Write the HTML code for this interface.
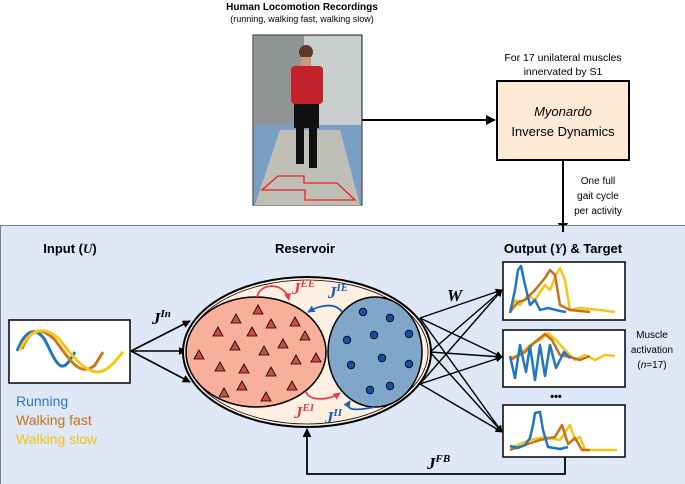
<!DOCTYPE html>
<html><head><meta charset="utf-8"><style>
html,body{margin:0;padding:0;background:#fff;}
svg{display:block;font-family:"Liberation Sans",sans-serif;}
.j{font-family:"Liberation Serif",serif;font-weight:bold;font-style:italic;font-size:17px;}
</style></head><body>
<svg width="685" height="484" viewBox="0 0 685 484" xmlns="http://www.w3.org/2000/svg">
<defs>
<marker id="ah" viewBox="0 0 10 10" refX="9" refY="5" markerWidth="5" markerHeight="5" orient="auto"><path d="M0,0L10,5L0,10z" fill="#000"/></marker>
<marker id="ahr" viewBox="0 0 10 10" refX="9" refY="5" markerWidth="4" markerHeight="4" orient="auto"><path d="M0,0L10,5L0,10z" fill="#e0404a"/></marker>
<marker id="ahb" viewBox="0 0 10 10" refX="9" refY="5" markerWidth="4" markerHeight="4" orient="auto"><path d="M0,0L10,5L0,10z" fill="#1a5fb4"/></marker>
</defs>
<text x="302" y="10" font-size="10" font-weight="bold" text-anchor="middle">Human Locomotion Recordings</text>
<text x="302" y="22" font-size="9" text-anchor="middle">(running, walking fast, walking slow)</text>
<rect x="253" y="35" width="109" height="170" fill="#b8bcbc" stroke="#222" stroke-width="1"/>
<rect x="254" y="36" width="50" height="95" fill="#8e9594"/>
<rect x="304" y="36" width="57" height="90" fill="#c9cfcd"/>
<rect x="254" y="125" width="107" height="80" fill="#7a9fc3"/>
<polygon points="280,130 340,130 360,205 255,205" fill="#c0bfb7"/>
<polygon points="278,176 304,176 304,183 337,183 355,200 305,200 305,190 262,190" fill="none" stroke="#e52020" stroke-width="1.3"/>
<rect x="291" y="66" width="32" height="38" fill="#c3222c" rx="4"/>
<circle cx="306" cy="52" r="7" fill="#5a3a2a"/>
<rect x="301" y="57" width="10" height="9" fill="#c99a7e"/>
<rect x="294" y="104" width="25" height="24" fill="#111"/>
<rect x="296" y="126" width="8" height="38" fill="#111"/>
<rect x="309" y="126" width="8" height="42" fill="#111"/>
<line x1="362" y1="120" x2="495" y2="120" stroke="#000" stroke-width="2" marker-end="url(#ah)"/>
<text x="563" y="61" font-size="10.5" text-anchor="middle">For 17 unilateral muscles</text>
<text x="563" y="75" font-size="10.5" text-anchor="middle">innervated by S1</text>
<rect x="497" y="81" width="132" height="79" fill="#fdebd8" stroke="#000" stroke-width="2"/>
<text x="563" y="116" font-size="13" font-style="italic" text-anchor="middle">Myonardo</text>
<text x="563" y="136" font-size="13" text-anchor="middle">Inverse Dynamics</text>
<line x1="563" y1="160" x2="563" y2="232" stroke="#000" stroke-width="2" marker-end="url(#ah)"/>
<text x="598" y="184" font-size="10" text-anchor="middle">One full</text>
<text x="598" y="199" font-size="10" text-anchor="middle">gait cycle</text>
<text x="598" y="214" font-size="10" text-anchor="middle">per activity</text>
<rect x="0.5" y="225.5" width="690" height="262" fill="#dee8f6" stroke="#7a7f88" stroke-width="1"/>
<line x1="563" y1="225" x2="563" y2="232" stroke="#000" stroke-width="2"/>
<text x="70" y="253" font-size="13" font-weight="bold" text-anchor="middle">Input (<tspan font-family="Liberation Serif" font-style="italic">U</tspan>)</text>
<text x="305" y="253" font-size="13" font-weight="bold" text-anchor="middle">Reservoir</text>
<text x="563" y="253" font-size="13" font-weight="bold" text-anchor="middle">Output (<tspan font-family="Liberation Serif" font-style="italic">Y</tspan>) &amp; Target</text>
<rect x="9" y="320" width="121" height="63" fill="#fff" stroke="#000" stroke-width="1.5"/>
<path d="M17,351 C25,331 35,325 45,340 C55,360 60,375 70,360 L75,352" fill="none" stroke="#1f77c0" stroke-width="3"/>
<path d="M22,349 C30,330 40,325 55,340 C70,360 80,378 95,365 L103,352" fill="none" stroke="#c77a1a" stroke-width="3"/>
<path d="M20,350 C30,328 45,325 60,340 C75,360 90,378 105,370 C112,366 118,358 123,352" fill="none" stroke="#f5c518" stroke-width="3"/>
<text x="16" y="406" font-size="14" fill="#2b78c2">Running</text>
<text x="16" y="425" font-size="14" fill="#c7701c">Walking fast</text>
<text x="16" y="444" font-size="14" fill="#f2c20e">Walking slow</text>
<g stroke="#000" stroke-width="1.6" marker-end="url(#ah)">
<line x1="131" y1="351" x2="190" y2="321"/>
<line x1="131" y1="351" x2="186" y2="351"/>
<line x1="131" y1="351" x2="190" y2="382"/>
</g>
<text x="152" y="324" class="j">J<tspan font-size="11" dy="-7">In</tspan></text>
<ellipse cx="307" cy="352" rx="124" ry="75" fill="#fdf0e2" stroke="#000" stroke-width="2"/>
<ellipse cx="307" cy="352" rx="121" ry="72" fill="none" stroke="#000" stroke-width="0.8"/>
<ellipse cx="256" cy="352" rx="70" ry="55" fill="#f9b09b" stroke="#000" stroke-width="1.5"/>
<ellipse cx="375" cy="352" rx="47" ry="55" fill="#80a7c9" stroke="#000" stroke-width="1.5"/>
<g fill="#d04a4a" stroke="#000" stroke-width="0.8">
<polygon points="258,305 253,314 263,314"/>
<polygon points="236,314 231,323 241,323"/>
<polygon points="271,319 266,328 276,328"/>
<polygon points="295,317 290,326 300,326"/>
<polygon points="218,327 213,336 223,336"/>
<polygon points="252,327 247,336 257,336"/>
<polygon points="305,331 300,340 310,340"/>
<polygon points="235,341 230,350 240,350"/>
<polygon points="283,339 278,348 288,348"/>
<polygon points="264,346 259,355 269,355"/>
<polygon points="199,350 194,359 204,359"/>
<polygon points="296,355 291,364 301,364"/>
<polygon points="316,353 311,362 321,362"/>
<polygon points="220,362 215,371 225,371"/>
<polygon points="244,364 239,373 249,373"/>
<polygon points="271,367 266,376 276,376"/>
<polygon points="242,381 237,390 247,390"/>
<polygon points="292,381 287,390 297,390"/>
<polygon points="224,388 219,397 229,397"/>
<polygon points="266,392 261,401 271,401"/>
</g>
<g fill="#1450a8" stroke="#000" stroke-width="0.8">
<circle cx="363" cy="312" r="3.8"/>
<circle cx="390" cy="318" r="3.8"/>
<circle cx="347" cy="340" r="3.8"/>
<circle cx="374" cy="335" r="3.8"/>
<circle cx="409" cy="334" r="3.8"/>
<circle cx="382" cy="358" r="3.8"/>
<circle cx="351" cy="365" r="3.8"/>
<circle cx="409" cy="364" r="3.8"/>
<circle cx="370" cy="390" r="3.8"/>
<circle cx="390" cy="386" r="3.8"/>
</g>
<path d="M257,297 C260,282 285,282 289,300" fill="none" stroke="#e0404a" stroke-width="1.8" marker-end="url(#ahr)"/>
<text x="292" y="294" class="j" fill="#e0404a">J<tspan font-size="11" dy="-7">EE</tspan></text>
<path d="M342,312 C335,302 320,305 308,312" fill="none" stroke="#1a5fb4" stroke-width="1.8" marker-end="url(#ahb)"/>
<text x="328" y="298" class="j" fill="#1a5fb4">J<tspan font-size="11" dy="-7">IE</tspan></text>
<path d="M306,392 C310,402 330,400 340,393" fill="none" stroke="#e0404a" stroke-width="1.8" marker-end="url(#ahr)"/>
<text x="294" y="418" class="j" fill="#e0404a">J<tspan font-size="11" dy="-7">EI</tspan></text>
<path d="M375,407 C360,410 343,412 350,401" fill="none" stroke="#1a5fb4" stroke-width="1.8" marker-end="url(#ahb)"/>
<text x="325" y="423" class="j" fill="#1a5fb4">J<tspan font-size="11" dy="-7">II</tspan></text>
<g stroke="#000" stroke-width="1.4" marker-end="url(#ah)">
<line x1="420" y1="318" x2="502" y2="290"/>
<line x1="420" y1="318" x2="502" y2="357"/>
<line x1="420" y1="318" x2="502" y2="432"/>
<line x1="430" y1="352" x2="502" y2="290"/>
<line x1="430" y1="352" x2="502" y2="357"/>
<line x1="430" y1="352" x2="502" y2="432"/>
<line x1="420" y1="384" x2="502" y2="290"/>
<line x1="420" y1="384" x2="502" y2="357"/>
<line x1="420" y1="384" x2="502" y2="432"/>
</g>
<text x="447" y="301" class="j">W</text>
<rect x="503" y="262" width="122" height="58" fill="#fff" stroke="#000" stroke-width="1.5"/>
<rect x="503" y="330" width="122" height="57" fill="#fff" stroke="#000" stroke-width="1.5"/>
<rect x="503" y="405" width="122" height="52" fill="#fff" stroke="#000" stroke-width="1.5"/>
<g fill="none" stroke-width="2.5" stroke-linejoin="round">
<path d="M510,310 L515,300 520,305 528,295 535,300 545,285 550,290 556,275 560,268 565,280 570,310 580,308 600,310 615,312" stroke="#f5c518"/>
<path d="M510,312 L518,302 525,300 535,290 545,278 550,270 555,275 560,305 570,310 590,312" stroke="#c7701c"/>
<path d="M510,313 L515,290 518,270 521,266 525,285 530,305 535,300 540,310 548,308 560,311 566,312" stroke="#1f77c0"/>
<path d="M510,358 L520,355 530,345 540,340 548,333 556,340 565,350 575,360 585,355 595,360 605,355 615,356" stroke="#f5c518"/>
<path d="M510,360 L525,352 535,342 545,334 552,340 560,355 570,357 580,360 590,356" stroke="#c7701c"/>
<path d="M510,356 L515,378 520,345 526,372 530,346 535,380 540,345 545,376 550,345 556,368 564,352 570,358" stroke="#1f77c0"/>
<path d="M510,448 L520,444 530,440 545,437 560,440 570,425 575,440 580,437 585,450 600,450 617,450" stroke="#f5c518"/>
<path d="M510,450 L525,445 540,440 555,437 562,425 568,444 575,438 582,450 590,450" stroke="#c7701c"/>
<path d="M510,446 L518,448 525,445 530,438 533,425 535,413 540,412 543,430 548,447 560,449 568,447" stroke="#1f77c0"/>
</g>
<text x="556" y="400" font-size="11" font-weight="bold" text-anchor="middle">•••</text>
<text x="652" y="338" font-size="10" text-anchor="middle">Muscle</text>
<text x="652" y="353" font-size="10" text-anchor="middle">activation</text>
<text x="652" y="368" font-size="10" text-anchor="middle">(<tspan font-style="italic">n</tspan>=17)</text>
<polyline points="565,457 565,474 307,474 307,429" fill="none" stroke="#000" stroke-width="1.8" marker-end="url(#ah)"/>
<text x="427" y="469" class="j">J<tspan font-size="11" dy="-7">FB</tspan></text>
</svg>
</body></html>
